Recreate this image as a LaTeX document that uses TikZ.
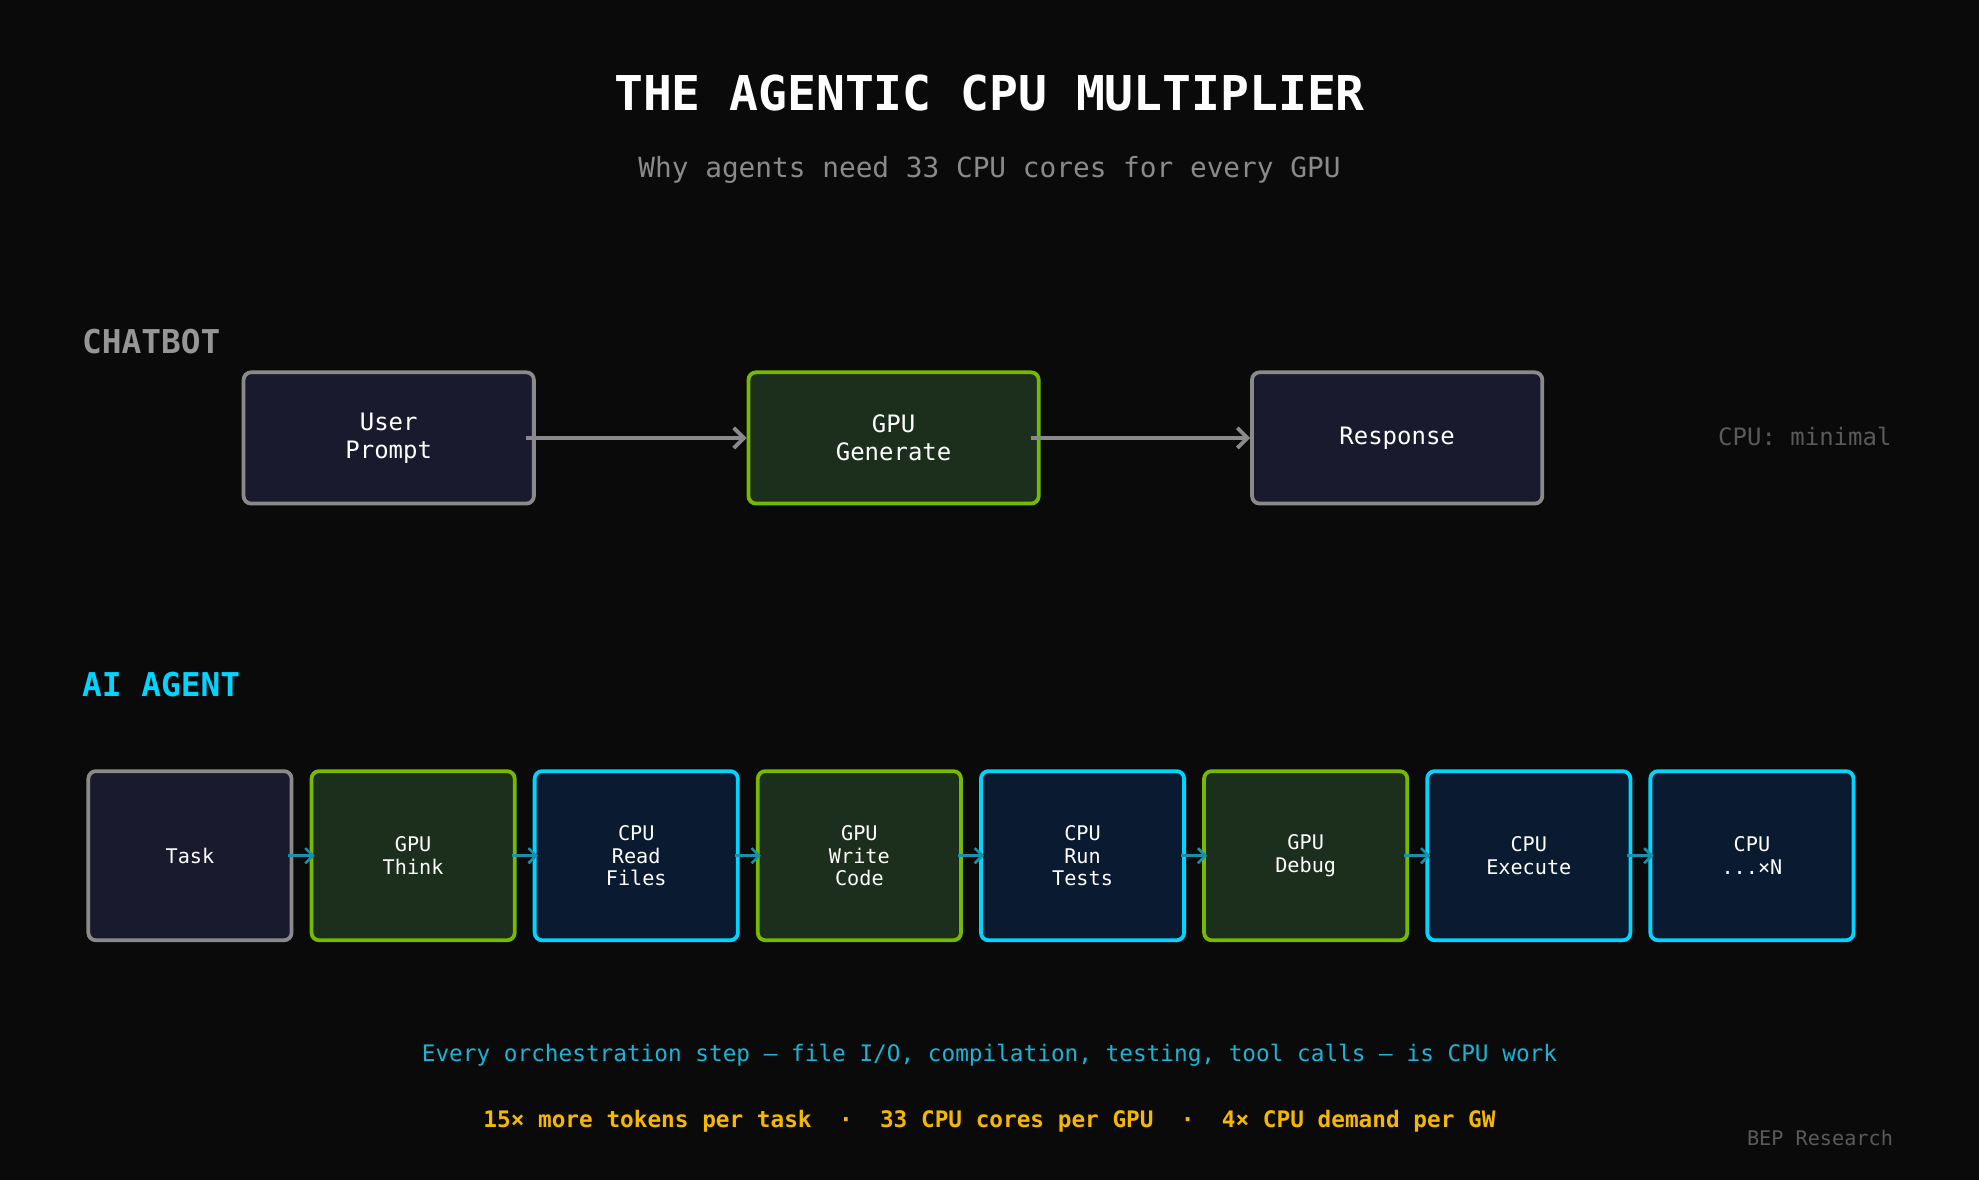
\documentclass[tikz,border=0pt]{standalone}
\usepackage{fontspec}
\setmonofont{DejaVu Sans Mono}
\usetikzlibrary{arrows.meta}
\definecolor{bg}{HTML}{0A0A0A}
\definecolor{gborder}{HTML}{8A8A8A}
\definecolor{navy}{HTML}{1A1A2E}
\definecolor{nv}{HTML}{76B900}
\definecolor{gfill}{HTML}{1C2E1C}
\definecolor{cy}{HTML}{00D4FF}
\definecolor{cfill}{HTML}{0A1A30}
\definecolor{cytext}{HTML}{1AB4D8}
\definecolor{gold}{HTML}{F5B800}
\definecolor{dim}{HTML}{5A5A5A}
\tikzset{
 box/.style={rounded corners=3pt, line width=1.5pt, inner sep=0pt, align=center, text=white, font=\ttfamily\fontsize{9.5}{11}\selectfont},
 big/.style={box, minimum width=115pt, minimum height=52pt},
 small/.style={box, minimum width=80.5pt, minimum height=67pt, font=\ttfamily\fontsize{8}{9}\selectfont},
 grayb/.style={draw=gborder, fill=navy},
 greenb/.style={draw=nv, fill=gfill},
 cyanb/.style={draw=cy, fill=cfill},
 harrow/.style={draw=gborder, line width=1.5pt, -{Straight Barb[length=4pt]}},
 carrow/.style={draw=cytext!80!black, line width=1pt, -{Straight Barb[length=3pt]}},
}
\begin{document}
\begin{tikzpicture}[x=0.5pt,y=-0.5pt]
\fill[bg] (0,0) rectangle (1568,935);
\node (title) at (784,74) {\ttfamily\bfseries\fontsize{19}{22}\selectfont\color{white}THE AGENTIC CPU MULTIPLIER};
\node (sub) at (784,135) {\ttfamily\fontsize{11}{13}\selectfont\color{gborder}Why agents need 33 CPU cores for every GPU};
\node[anchor=west] (chat) at (58,271) {\ttfamily\bfseries\fontsize{13}{15}\selectfont\color{gborder!90}CHATBOT};
\node[big,grayb] (up) at (308,347) {User\\Prompt};
\node[big,greenb] (gg) at (708,347) {GPU\\Generate};
\node[big,grayb] (resp) at (1107,347) {Response};
\node (cpum) at (1430,346) {\ttfamily\fontsize{9.5}{11}\selectfont\color{dim}CPU: minimal};
\draw[harrow] ([xshift=-4pt]up.east) -- (gg.west);
\draw[harrow] ([xshift=-4pt]gg.east) -- (resp.west);
\node[anchor=west] (agent) at (58,542) {\ttfamily\bfseries\fontsize{13}{15}\selectfont\color{cy}AI AGENT};
\foreach \i/\s/\t in {0/grayb/Task,1/greenb/{GPU\\Think},2/cyanb/{CPU\\Read\\Files},3/greenb/{GPU\\Write\\Code},4/cyanb/{CPU\\Run\\Tests},5/greenb/{GPU\\Debug},6/cyanb/{CPU\\Execute},7/cyanb/{CPU\\...×N}}
  \node[small,\s] (a\i) at (150.5+176.8*\i,678) {\t};
\foreach \i [evaluate=\i as \j using int(\i+1)] in {0,...,6}
  \draw[carrow] ([xshift=-2pt]a\i.east) -- ([xshift=2pt]a\j.west);
\node (l1) at (784,836) {\ttfamily\fontsize{9}{11}\selectfont\color{cytext}Every orchestration step — file I/O, compilation, testing, tool calls — is CPU work};
\node (l2) at (784,888) {\ttfamily\bfseries\fontsize{9}{11}\selectfont\color{gold}15× more tokens per task~~·~~33 CPU cores per GPU~~·~~4× CPU demand per GW};
\node (bep) at (1442,902) {\ttfamily\fontsize{8}{10}\selectfont\color{dim}BEP Research};
\end{tikzpicture}
\end{document}
